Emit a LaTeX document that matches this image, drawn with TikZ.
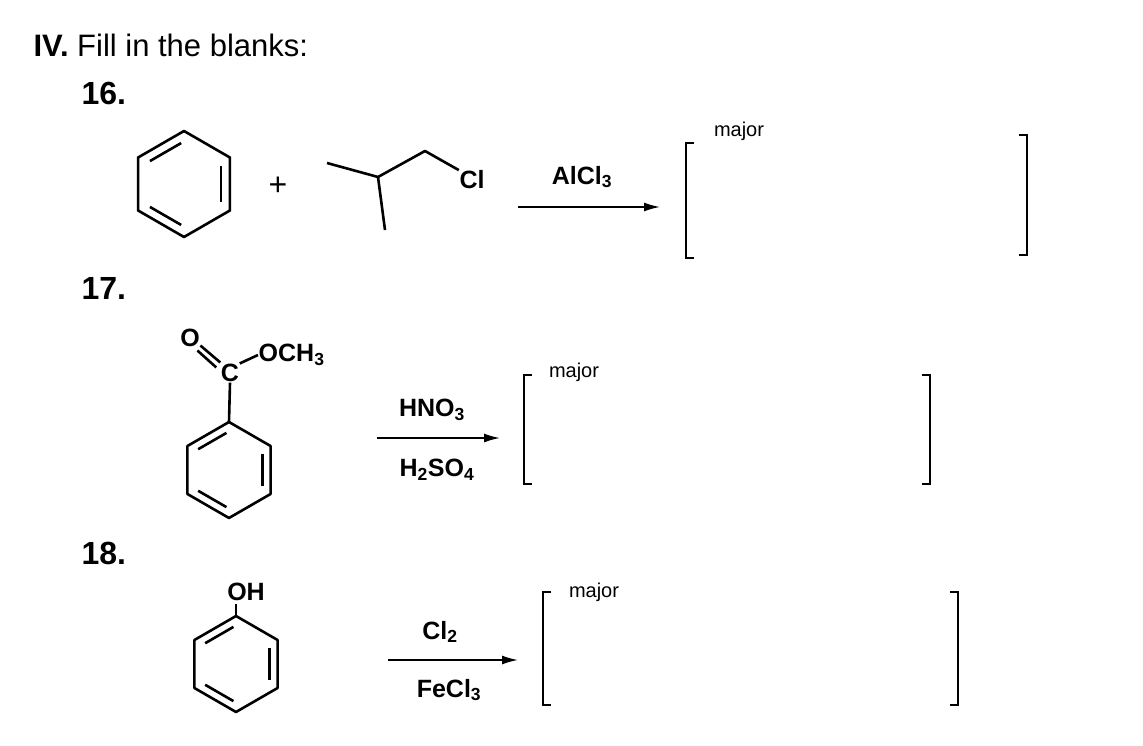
\documentclass[tikz,border=0pt]{standalone}
\usepackage{fontspec}
\setmainfont{Liberation Sans}
\usetikzlibrary{arrows.meta,calc}
\newcommand{\myhexa}[3]{%
 \begin{scope}[shift={(#1,#2)}]
 \draw[bond,line join=round] (90:#3)--(150:#3)--(210:#3)--(270:#3)--(330:#3)--(30:#3)--cycle;
 \draw[bond] ($(90:#3)!0.16!(150:#3)+(-60:0.17*#3)$) -- ($(90:#3)!0.84!(150:#3)+(-60:0.17*#3)$);
 \draw[bond] ($(330:#3)!0.16!(30:#3)+(180:0.17*#3)$) -- ($(330:#3)!0.84!(30:#3)+(180:0.17*#3)$);
 \draw[bond] ($(210:#3)!0.16!(270:#3)+(60:0.17*#3)$) -- ($(210:#3)!0.84!(270:#3)+(60:0.17*#3)$);
 \end{scope}}
\begin{document}
\begin{tikzpicture}[x=1pt,y=-1pt,
  bond/.style={line width=2.6pt},
  chem/.style={font=\fontsize{25}{27}\selectfont\bfseries, inner sep=0.5pt},
  small/.style={font=\fontsize{20}{22}\selectfont},
  num/.style={font=\fontsize{32}{34}\selectfont\bfseries, anchor=west},
  rxn/.style={line width=1.6pt,-{Latex[length=16pt,width=9pt]}},
  brk/.style={line width=1.4pt}]
\useasboundingbox (0,0) rectangle (1143,746);
\node[anchor=west, font=\fontsize{31}{34}\selectfont] (t) at (30,45) {\textbf{IV.}\ Fill in the blanks:};
\node[num] (n16) at (78,93) {16.};
\node[num] (n17) at (78,288) {17.};
\node[num] (n18) at (78,553) {18.};

% ---- 16
\myhexa{184}{184}{53}
\node[font=\fontsize{32}{32}\selectfont] (plus) at (278,186) {+};
\coordinate (a1) at (327,163);
\coordinate (a2) at (378,177);
\coordinate (a3) at (385,230);
\coordinate (a4) at (425,151);
\node[chem] (cl) at (472,180) {Cl};
\draw[bond,line join=round] (a1)--(a2)--(a4)--(cl.north west);
\draw[bond] (a2)--(a3);
\draw[rxn] (518,207)--(660,207);
\node[chem] (alcl) at (582,177) {AlCl$_\mathbf{3}$};
\draw[brk] (694,143)--(686,143)--(686,258)--(694,258);
\draw[brk] (1019,135)--(1027,135)--(1027,255)--(1019,255);
\node[small] (m1) at (739,131) {major};

% ---- 17
\myhexa{229}{470}{48}
\node[chem] (c) at (230,373) {C};
\node[chem] (o) at (190,338) {O};
\node[chem,anchor=west] (och) at (258,355) {OCH$_\mathbf{3}$};
\draw[bond] (229,422)--(c.south);
\draw[bond] (c.north east)--(och.west);
\draw[bond] ($(o.south east)+(0,-2)$)--($(c.north west)+(0,-1)$);
\draw[bond] ($(o.south east)+(-3,3)$)--($(c.north west)+(-4,4)$);
\draw[rxn] (377,438)--(500,438);
\node[chem] (hno) at (432,410) {HNO$_\mathbf{3}$};
\node[chem] (hso) at (437,470) {H$_\mathbf{2}$SO$_\mathbf{4}$};
\draw[brk] (532,375)--(524,375)--(524,484)--(532,484);
\draw[brk] (922,375)--(930,375)--(930,484)--(922,484);
\node[small] (m2) at (574,372) {major};

% ---- 18
\myhexa{236}{664}{48}
\node[chem] (oh) at (246,592) {OH};
\draw[bond] (236,616)--(236,604);
\draw[rxn] (388,660)--(518,660);
\node[chem] (cl2) at (440,632) {Cl$_\mathbf{2}$};
\node[chem] (fecl) at (449,690) {FeCl$_\mathbf{3}$};
\draw[brk] (551,592)--(543,592)--(543,705)--(551,705);
\draw[brk] (950,592)--(958,592)--(958,705)--(950,705);
\node[small] (m3) at (594,592) {major};
\end{tikzpicture}
\end{document}
